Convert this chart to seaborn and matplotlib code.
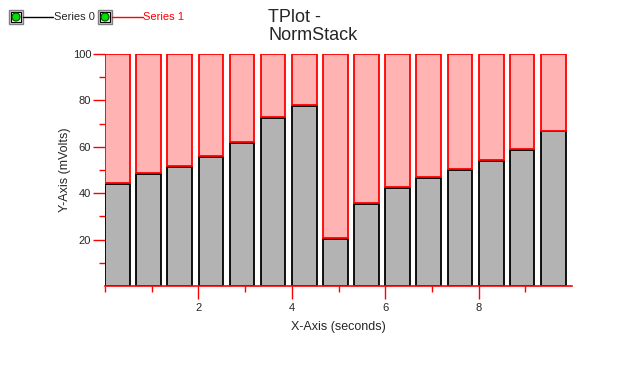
import numpy as np
import pandas as pd
import matplotlib
matplotlib.use("Agg")
import matplotlib.pyplot as plt
from matplotlib.patches import Rectangle, Circle
from matplotlib.lines import Line2D
from matplotlib.transforms import IdentityTransform
import seaborn as sns

# bar positions (seconds) and normalized stack values (%)
x_pos = [0.27, 0.93, 1.6, 2.27, 2.93, 3.6, 4.27, 4.93, 5.6, 6.27, 6.93, 7.6, 8.27, 8.93, 9.6]
series0 = [44, 48.3, 51.3, 55.6, 61.7, 72.5, 77.8, 20.2, 35.3, 42.4, 46.7, 50.1, 54.0, 58.6, 66.6]
series1 = [56, 51.7, 48.7, 44.4, 38.3, 27.5, 22.2, 79.8, 64.7, 57.6, 53.3, 49.9, 46.0, 41.4, 33.4]
x_major = [2, 4, 6, 8]
x_minor = [0, 1, 3, 5, 7, 9]
y_major = [20, 40, 60, 80, 100]
y_minor = [10, 30, 50, 70, 90]

sns.set_style("white")
plt.rcParams["font.family"] = ["Liberation Sans", "DejaVu Sans"]

df = pd.DataFrame({"x": x_pos, "s0": series0, "s1": series1})

W, H = 637, 382
fig = plt.figure(figsize=(W / 100, H / 100), dpi=100)
ax = fig.add_axes([105/W, 96/H, 467/W, 232/H])

sns.barplot(data=df, x="x", y="s0", native_scale=True, errorbar=None,
            color="#b3b3b3", edgecolor="black", linewidth=1.3, saturation=1, ax=ax)
n0 = len(ax.patches)
sns.barplot(data=df, x="x", y="s1", native_scale=True, errorbar=None,
            color="#ffb3b3", edgecolor="red", linewidth=1.3, saturation=1, ax=ax)
# stack series 1 on top of series 0 (small lift so both edges show)
for p, b in zip(ax.patches[n0:], series0):
    p.set_y(b + 0.4)
    p.set_height(p.get_height() - 0.4)

ax.set_xlim(0, 10)
ax.set_ylim(0, 100)
ax.set_xticks(x_major)
ax.set_xticks(x_minor, minor=True)
ax.set_yticks(y_major)
ax.set_yticks(y_minor, minor=True)
ax.tick_params(axis="both", which="major", length=9, width=1, color="red",
               labelsize=8, direction="out")
ax.tick_params(axis="y", which="major", pad=1)
ax.tick_params(axis="x", which="major", pad=3)
ax.tick_params(axis="both", which="minor", length=4, width=1, color="red", direction="out")
ax.tick_params(bottom=True, left=True, which="both")
for s in ["top", "right", "left"]:
    ax.spines[s].set_visible(False)
ax.spines["bottom"].set_color("red")
ax.spines["bottom"].set_linewidth(1.2)
ax.set_xlabel("X-Axis (seconds)", fontsize=9, labelpad=6)
ax.set_ylabel("Y-Axis (mVolts)", fontsize=9, labelpad=1)

# title, two lines
fig.text(268/W, 1 - 22.5/H, "TPlot -", fontsize=13, ha="left", va="baseline")
fig.text(268/W, 1 - 40.5/H, "NormStack", fontsize=13, ha="left", va="baseline")

# legend strip at the top left (pixel coordinates, y from the top)
pix = IdentityTransform()

def icon(x0):
    fig.add_artist(Rectangle((x0, H - 24), 14, 14, transform=pix,
                             facecolor="#d4d0c8", edgecolor="#808080", linewidth=1))
    fig.add_artist(Rectangle((x0 + 2, H - 22), 10, 10, transform=pix,
                             facecolor="#f0f0f0", edgecolor="black", linewidth=0.8))
    fig.add_artist(Circle((x0 + 7, H - 17), 4, transform=pix,
                          facecolor="#00e000", edgecolor="#005000", linewidth=0.8))

icon(9)
fig.add_artist(Line2D([23, 53], [H - 17] * 2, transform=pix, color="black", linewidth=1))
fig.text(54/W, 1 - 17/H, "Series 0", fontsize=8, ha="left", va="center")
icon(98)
fig.add_artist(Line2D([112, 143], [H - 17] * 2, transform=pix, color="red", linewidth=1))
fig.text(143/W, 1 - 17/H, "Series 1", fontsize=8, ha="left", va="center", color="red")

fig.savefig("out.png", dpi=100)
